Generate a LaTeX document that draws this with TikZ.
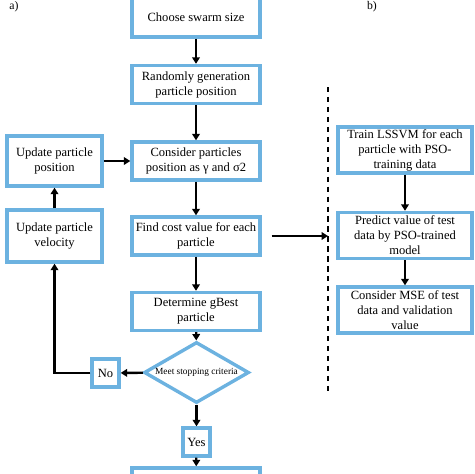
\documentclass[tikz,border=0pt]{standalone}
\usepackage{fontspec}
\setmainfont{Liberation Serif}
\usetikzlibrary{shapes.geometric,arrows.meta}
\definecolor{boxblue}{RGB}{108,178,224}
\begin{document}
\begin{tikzpicture}[x=0.03cm, y=-0.03cm,
    flowbox/.style={draw=boxblue, line width=2.9pt, fill=white, align=center, inner sep=1pt,
        font=\fontsize{10.7}{12.8}\selectfont, minimum width=3.84cm, minimum height=1.14cm},
    sidebox/.style={flowbox, minimum width=2.85cm, minimum height=1.5cm},
    rightbox/.style={flowbox, minimum width=4.02cm, minimum height=1.38cm},
    tinybox/.style={flowbox, minimum width=0.81cm, minimum height=0.84cm},
    decision/.style={draw=boxblue, line width=2.9pt, fill=white, shape=diamond, aspect=1.72,
        inner sep=0pt, font=\fontsize{8}{9.6}\selectfont, minimum width=3.15cm, minimum height=1.83cm},
    arr/.style={draw=black, line width=2pt, -{Triangle[length=5.5pt,width=6.5pt]}}
]
    \useasboundingbox (0,0) rectangle (474,474);

    % 标签
    \node[anchor=base, font=\fontsize{10}{12}\selectfont] (lbla) at (14,9) {a)};
    \node[anchor=base, font=\fontsize{10}{12}\selectfont] (lblb) at (372,9) {b)};

    % 主流程 a)
    \node[flowbox, minimum height=1.17cm] (choose) at (196,17.5) {Choose swarm size};
    \node[flowbox] (randgen) at (196,84.5) {Randomly generation\\particle position};
    \node[flowbox] (consider) at (196,161) {Consider particles\\position as γ and σ2};
    \node[flowbox] (findcost) at (196,236) {Find cost value for each\\particle};
    \node[flowbox] (gbest) at (196,311.5) {Determine gBest\\particle};
    \node[decision] (stop) at (196.5,372.5) {Meet stopping criteria};
    \node[tinybox] (yes) at (196.5,442) {Yes};
    \node[flowbox] (final) at (196,487) {};

    % 更新粒子
    \node[sidebox] (updpos) at (54.5,161) {Update particle\\position};
    \node[sidebox, minimum height=1.56cm] (updvel) at (54.5,236) {Update particle\\velocity};
    \node[tinybox] (no) at (105.5,373) {No};

    % 连线
    \draw[arr] (choose) -- (randgen);
    \draw[arr] (randgen) -- (consider);
    \draw[arr] (consider) -- (findcost);
    \draw[arr] (findcost) -- (gbest);
    \draw[arr] (gbest) -- (stop);
    \draw[arr] (stop) -- (yes);
    \draw[arr] (yes) -- (final);
    \draw[arr] (stop) -- (no);
    \draw[arr] (no.west) -| (updvel.south);
    \draw[arr] (updvel) -- (updpos);
    \draw[arr] (updpos) -- (consider);

    % 分隔线 b)
    \coordinate (sepTop) at (328,87);
    \coordinate (sepBot) at (328,395);
    \coordinate (sepHit) at (328,236);
    \draw[line width=1.2pt, dash pattern=on 4.5pt off 4pt] (sepTop) -- (sepBot);
    \draw[arr, shorten <=0.3cm] (findcost) -- (sepHit);

    % LSSVM 流程
    \node[rightbox] (train) at (405,150) {Train LSSVM for each\\particle with PSO-\\training data};
    \node[rightbox] (predict) at (405,235.5) {Predict value of test\\data by PSO-trained\\model};
    \node[rightbox] (mse) at (405,310) {Consider MSE of test\\data and validation\\value};
    \draw[arr] (train) -- (predict);
    \draw[arr] (predict) -- (mse);
\end{tikzpicture}
\end{document}
